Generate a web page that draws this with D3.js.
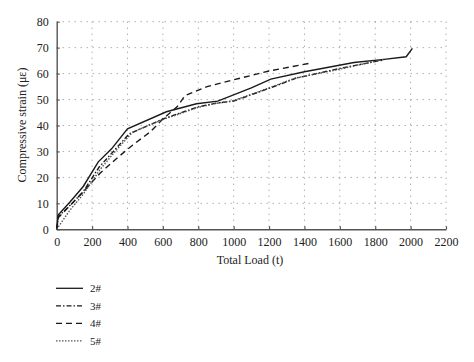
<!DOCTYPE html>
<html>
<head>
<meta charset="utf-8">
<script src="https://cdn.jsdelivr.net/npm/d3@7"></script>
<style>
body { margin: 0; background: #fff; }
text { font-family: "Liberation Serif", "DejaVu Serif", serif; fill: #222; }
.grid line { stroke: #888; stroke-width: 1; stroke-dasharray: 1,5; }
.series { fill: none; stroke: #222; stroke-width: 1.4; }
</style>
</head>
<body>
<div id="chart"></div>
<script>
// ##### data #####
var xTicks = [0,200,400,600,800,1000,1200,1400,1600,1800,2000,2200];
var yTicks = [0,10,20,30,40,50,60,70,80];
var seriesNames = ['2#','3#','4#','5#'];

var load2 = [0,8,75,150,235,310,400,620,790,910,1100,1210,1400,1680,1850,1975,2010];
var strain2 = [0,5.5,10.5,16.5,26,31,38.7,45.3,48.4,49.4,54.5,57.9,60.7,64.3,65.5,66.5,69.7];

var load3 = [0,10,80,150,240,320,410,600,800,900,1000,1200,1350,1600,1850];
var strain3 = [0,5,9.5,14.5,24,30,36.8,42.5,47.2,48.6,49.4,54.3,58.2,62,65.3];

var load4 = [0,10,80,150,245,340,430,530,600,680,725,850,1000,1200,1430];
var strain4 = [0,4.5,9.5,14.5,21.6,27.4,32.5,37.6,42.5,47.2,51.5,55,57.6,61,64];

var load5 = [0,10,75,150,245,330,430,600,800,900,1000,1200,1350,1600,1850];
var strain5 = [0,1,7.4,13.5,23,30,37.5,42.3,47,48.5,49.6,54.5,58.3,61.7,65.5];

var dashes = ['none','5,2,1.5,2','6,4','1.5,1.5'];
var colors = ['#1a1a1a','#1a1a1a','#1a1a1a','#555'];

// ##### layout #####
var W = 474, H = 362;
var margin = {top: 21.7, left: 56.7};
var plotW = 446 - 56.7, plotH = 229.3 - 21.7;

var svg = d3.select("#chart").append("svg")
	.attr("width", W).attr("height", H);
var g = svg.append("g").attr("transform", "translate(" + margin.left + "," + margin.top + ")");

var x = d3.scaleLinear().domain([0,2200]).range([0, plotW]);
var y = d3.scaleLinear().domain([0,80]).range([plotH, 0]);

// gridlines
var grid = g.append("g").attr("class", "grid");
grid.selectAll(".gx").data(xTicks.slice(1)).enter().append("line")
	.attr("x1", function(d){ return x(d); }).attr("x2", function(d){ return x(d); })
	.attr("y1", 0).attr("y2", plotH);
grid.selectAll(".gy").data(yTicks.slice(1)).enter().append("line")
	.attr("y1", function(d){ return y(d); }).attr("y2", function(d){ return y(d); })
	.attr("x1", 0).attr("x2", plotW);

// axes
var xAxis = g.append("g")
	.attr("transform", "translate(0," + plotH + ")")
	.call(d3.axisBottom(x).tickValues(xTicks).tickFormat(d3.format("d")).tickSizeInner(-3).tickSizeOuter(0).tickPadding(8));
var yAxis = g.append("g")
	.call(d3.axisLeft(y).tickValues(yTicks).tickFormat(d3.format("d")).tickSizeInner(-3).tickSizeOuter(0).tickPadding(8));
[xAxis, yAxis].forEach(function(a){
	a.select(".domain").attr("stroke", "#555").attr("stroke-width", 1.4);
	a.selectAll(".tick line").attr("stroke", "#555").attr("stroke-width", 1.2);
	a.selectAll(".tick text").style("font-size", "12px").attr("fill", "#222");
});

// titles
svg.append("text")
	.attr("x", 250).attr("y", 264)
	.attr("text-anchor", "middle")
	.style("font-size", "12px")
	.text("Total Load (t)");
svg.append("text")
	.attr("transform", "translate(26,125) rotate(-90)")
	.attr("text-anchor", "middle")
	.style("font-size", "12px")
	.text("Compressive strain (με)");

// series
var series = [
	{name: seriesNames[0], xs: load2, ys: strain2},
	{name: seriesNames[1], xs: load3, ys: strain3},
	{name: seriesNames[2], xs: load4, ys: strain4},
	{name: seriesNames[3], xs: load5, ys: strain5}
];
var line = d3.line()
	.x(function(d){ return x(d[0]); })
	.y(function(d){ return y(d[1]); });

g.selectAll(".series").data(series).enter().append("path")
	.attr("class", "series")
	.attr("d", function(s){ return line(s.xs.map(function(v,i){ return [v, s.ys[i]]; })); })
	.style("stroke-dasharray", function(s,i){ return dashes[i]; })
	.style("stroke", function(s,i){ return colors[i]; });

// legend
var legend = svg.append("g").attr("transform", "translate(56,288.3)");
var item = legend.selectAll(".item").data(series).enter().append("g")
	.attr("transform", function(d,i){ return "translate(0," + (i*17.5) + ")"; });
item.append("line")
	.attr("x1", 0).attr("x2", 27).attr("y1", 0).attr("y2", 0)
	.attr("stroke", function(d,i){ return colors[i]; })
	.attr("stroke-width", 1.3)
	.style("stroke-dasharray", function(d,i){ return dashes[i]; });
item.append("text")
	.attr("x", 34).attr("dy", "0.35em")
	.style("font-size", "11px")
	.text(function(d){ return d.name; });
</script>
</body>
</html>
